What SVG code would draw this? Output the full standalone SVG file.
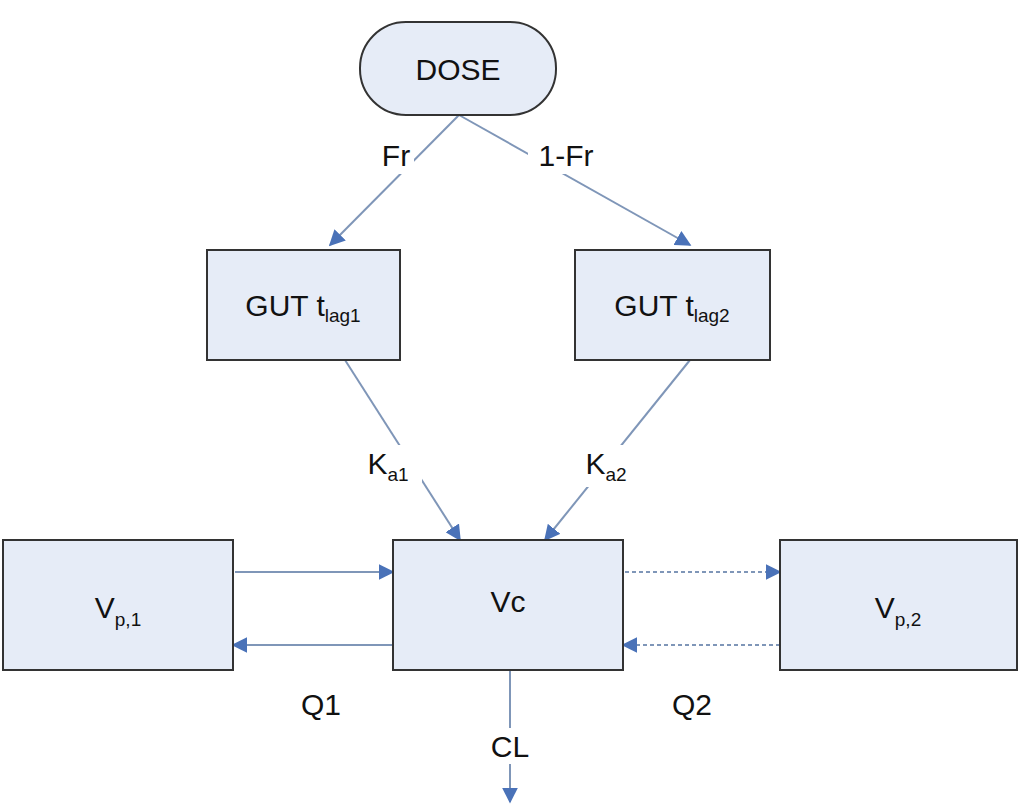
<svg xmlns="http://www.w3.org/2000/svg" width="1023" height="812" viewBox="0 0 1023 812">
<style>
.n{fill:#e6ecf7;stroke:#333;stroke-width:2}
.t{font-family:"Liberation Sans",Arial,sans-serif;font-size:30px;fill:#111;text-anchor:middle}
.s{font-size:19px}
.c{stroke:#7f96b8;stroke-width:2;fill:none}
.d{stroke-dasharray:4 3}
</style>
<defs><marker id="a" viewBox="0 0 10 10" refX="9" refY="5" markerWidth="8" markerHeight="8" orient="auto"><path d="M0,0L10,5L0,10z" fill="#4a72b8"/></marker></defs>
<rect width="1023" height="812" fill="#fff"/>
<g id="connectors">
<path class="c" d="M459,115L330,245" marker-end="url(#a)"/>
<path class="c" d="M459,115L690,245" marker-end="url(#a)"/>
<path class="c" d="M345,360L460,540" marker-end="url(#a)"/>
<path class="c" d="M690,360L545,540" marker-end="url(#a)"/>
<path class="c" d="M235,572L393,572" marker-end="url(#a)"/>
<path class="c" d="M393,645L233,645" marker-end="url(#a)"/>
<path class="c d" d="M625,572L780,572" marker-end="url(#a)"/>
<path class="c d" d="M780,645L623,645" marker-end="url(#a)"/>
<path class="c" d="M510,670L510,802" marker-end="url(#a)"/>
</g>
<g fill="#fff">
<rect x="378" y="138" width="36" height="36"/><rect x="528" y="138" width="76" height="36"/>
<rect x="360" y="445" width="62" height="42"/><rect x="578" y="445" width="62" height="42"/>
<rect x="488" y="728" width="44" height="36"/>
</g>
<g id="dose"><rect class="n" x="360" y="22" width="196" height="93" rx="46"/><text class="t" x="458" y="80">DOSE</text></g>
<g id="gut1"><rect class="n" x="207" y="250" width="193" height="110"/><text class="t" x="303" y="316">GUT t<tspan class="s" dy="6">lag1</tspan></text></g>
<g id="gut2"><rect class="n" x="575" y="250" width="195" height="110"/><text class="t" x="672" y="316">GUT t<tspan class="s" dy="6">lag2</tspan></text></g>
<g id="vp1"><rect class="n" x="3" y="540" width="230" height="130"/><text class="t" x="118" y="618">V<tspan class="s" dy="8">p,1</tspan></text></g>
<g id="vc"><rect class="n" x="393" y="540" width="230" height="130"/><text class="t" x="508" y="612">Vc</text></g>
<g id="vp2"><rect class="n" x="780" y="540" width="237" height="130"/><text class="t" x="898" y="618">V<tspan class="s" dy="8">p,2</tspan></text></g>
<g class="t">
<text x="396" y="166">Fr</text><text x="566" y="166">1-Fr</text>
<text x="388" y="474">K<tspan class="s" dy="7">a1</tspan></text>
<text x="606" y="474">K<tspan class="s" dy="7">a2</tspan></text>
<text x="321" y="715">Q1</text><text x="692" y="715">Q2</text>
<text x="510" y="757">CL</text>
</g>
</svg>
